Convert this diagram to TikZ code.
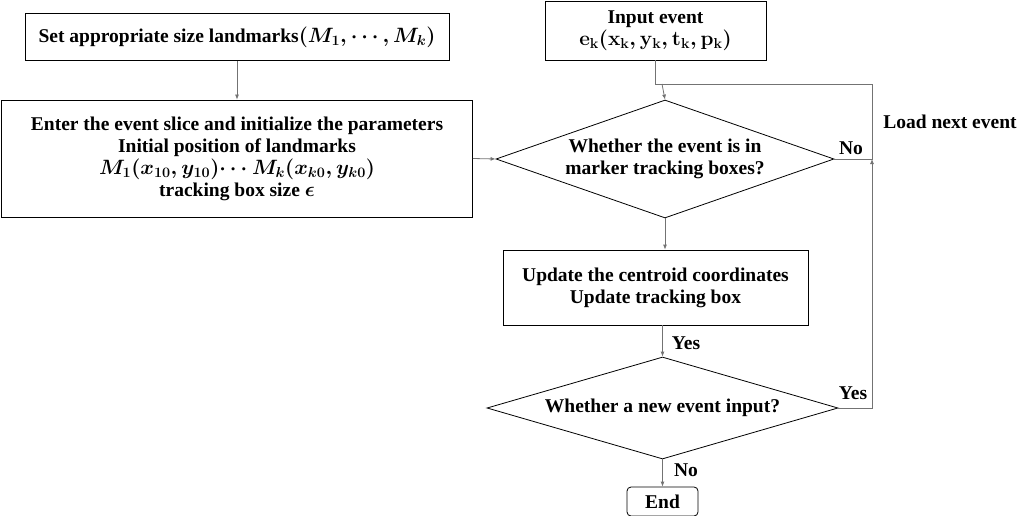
\documentclass[tikz,border=0pt]{standalone}
\usepackage{fontspec}
\setmainfont{Liberation Serif}
\usepackage{amsmath,bm}
\usetikzlibrary{shapes.geometric,arrows.meta}
\begin{document}
\begin{tikzpicture}[x=1pt,y=-1pt,
  txt/.style={font=\bfseries\boldmath\fontsize{19.5}{22}\selectfont,align=center},
  box/.style={txt,draw,thick,inner sep=0pt},
  dia/.style={draw,thick,diamond,inner sep=0pt},
  ln/.style={draw=black!55,line width=0.8pt},
  arr/.style={ln,-{Latex[length=5pt,width=4pt]}}]
\useasboundingbox (0,0) rectangle (1025,516);
\node[box,minimum width=424,minimum height=47] (A) at (237,37) {Set appropriate size landmarks$(\bm{M_1},\bm{\cdots},\bm{M_k})$};
\node[box,minimum width=471,minimum height=117] (B) at (237,158.5) {Enter the event slice and initialize the parameters\\Initial position of landmarks\\$\bm{M_1(x_{10},y_{10})\cdots\ M_k(x_{k0},y_{k0})}$\\tracking box size $\bm{\epsilon}$};
\node[box,minimum width=221,minimum height=59] (C) at (655.5,30.5) {Input event\\$\mathbf{e_k(x_k,y_k,t_k,p_k)}$};
\node[dia,minimum width=338,minimum height=118] (D1) at (665,159) {};
\node[txt] at (665,159) {Whether the event is in\\marker tracking boxes?};
\node[box,minimum width=305,minimum height=75] (E) at (655.5,287.5) {Update the centroid coordinates\\Update tracking box};
\node[dia,minimum width=351,minimum height=102] (D2) at (662.5,408) {};
\node[txt] at (662.5,408) {Whether a new event input?};
\node[box,rounded corners=4pt,minimum width=71,minimum height=29] (F) at (662.5,501.5) {End};
\coordinate (m) at (662,84);
\coordinate (r1) at (872,159);
\coordinate (r0) at (872,84);
\draw[arr] (A) -- (B);
\draw[arr] (B.east) -- (D1.west);
\draw[ln] (C.south) |- (m);
\draw[arr] (m) -- (D1.north);
\draw[ln] (D1.east) -- (r1) -- (r0) -- (m);
\draw[arr] (D2.east) -| (r1);
\draw[arr] (D1.south) -- (E.north -| D1.south);
\draw[arr] (E.south -| D2.north) -- (D2.north);
\draw[arr] (D2.south) -- (F.north);
\node[txt] at (851,148) {No};
\node[txt] at (950,122) {Load next event};
\node[txt] at (853,393) {Yes};
\node[txt] at (686,343) {Yes};
\node[txt] at (686,470) {No};
\end{tikzpicture}
\end{document}
